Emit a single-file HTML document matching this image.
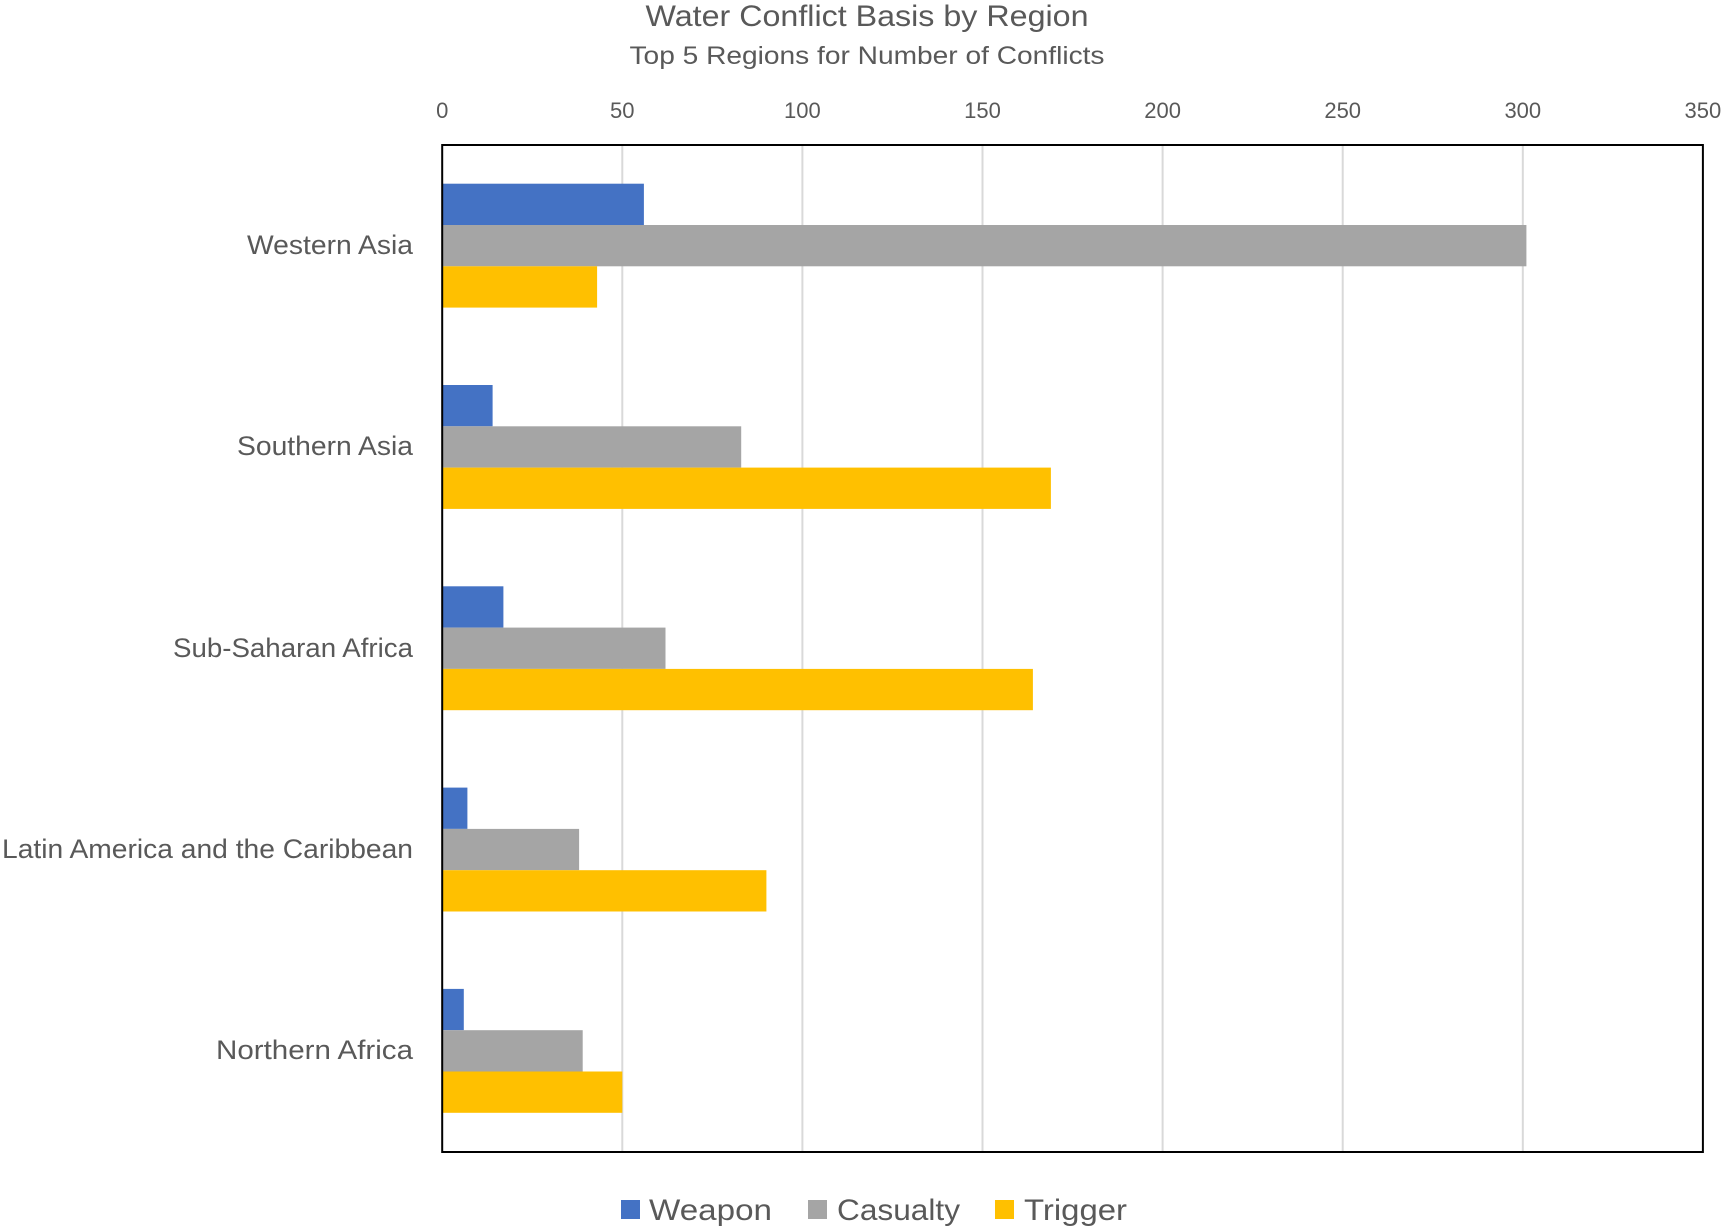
<!DOCTYPE html>
<html><head><meta charset="utf-8"><style>html,body{margin:0;padding:0;background:#fff}svg{display:block}</style></head>
<body>
<svg width="1725" height="1230" viewBox="0 0 1725 1230" xmlns="http://www.w3.org/2000/svg" font-family="Liberation Sans, sans-serif" fill="#595959">
<text x="867" y="26" font-size="30" text-anchor="middle" textLength="443" lengthAdjust="spacingAndGlyphs">Water Conflict Basis by Region</text>
<text x="867" y="64" font-size="25" text-anchor="middle" textLength="475" lengthAdjust="spacingAndGlyphs">Top 5 Regions for Number of Conflicts</text>
<g stroke="#d9d9d9" stroke-width="2">
<line x1="622.3" y1="145" x2="622.3" y2="1152"/>
<line x1="802.4" y1="145" x2="802.4" y2="1152"/>
<line x1="982.5" y1="145" x2="982.5" y2="1152"/>
<line x1="1162.6" y1="145" x2="1162.6" y2="1152"/>
<line x1="1342.7" y1="145" x2="1342.7" y2="1152"/>
<line x1="1522.8" y1="145" x2="1522.8" y2="1152"/>
</g>
<g font-size="22" text-anchor="middle">
<text x="442.2" y="118">0</text><text x="622.3" y="118">50</text><text x="802.4" y="118">100</text><text x="982.5" y="118">150</text><text x="1162.6" y="118">200</text><text x="1342.7" y="118">250</text><text x="1522.8" y="118">300</text><text x="1702.9" y="118">350</text>
</g>
<g>
<rect x="442.2" y="183.7" width="201.7" height="41.3" fill="#4472c4"/>
<rect x="442.2" y="225" width="1084.2" height="41.3" fill="#a5a5a5"/>
<rect x="442.2" y="266.3" width="154.9" height="41.3" fill="#ffc000"/>
<rect x="442.2" y="385" width="50.4" height="41.3" fill="#4472c4"/>
<rect x="442.2" y="426.3" width="299" height="41.3" fill="#a5a5a5"/>
<rect x="442.2" y="467.6" width="608.7" height="41.3" fill="#ffc000"/>
<rect x="442.2" y="586.3" width="61.2" height="41.3" fill="#4472c4"/>
<rect x="442.2" y="627.6" width="223.3" height="41.3" fill="#a5a5a5"/>
<rect x="442.2" y="668.9" width="590.7" height="41.3" fill="#ffc000"/>
<rect x="442.2" y="787.6" width="25.2" height="41.3" fill="#4472c4"/>
<rect x="442.2" y="828.9" width="136.9" height="41.3" fill="#a5a5a5"/>
<rect x="442.2" y="870.2" width="324.2" height="41.3" fill="#ffc000"/>
<rect x="442.2" y="988.9" width="21.6" height="41.3" fill="#4472c4"/>
<rect x="442.2" y="1030.2" width="140.5" height="41.3" fill="#a5a5a5"/>
<rect x="442.2" y="1071.5" width="180.1" height="41.3" fill="#ffc000"/>
</g>
<rect x="442.2" y="145" width="1260.7" height="1007" fill="none" stroke="#000" stroke-width="2"/>
<g font-size="27" text-anchor="end">
<text x="413" y="254" textLength="166" lengthAdjust="spacingAndGlyphs">Western Asia</text>
<text x="413" y="455" textLength="176" lengthAdjust="spacingAndGlyphs">Southern Asia</text>
<text x="413" y="657" textLength="240" lengthAdjust="spacingAndGlyphs">Sub-Saharan Africa</text>
<text x="413" y="858" textLength="411" lengthAdjust="spacingAndGlyphs">Latin America and the Caribbean</text>
<text x="413" y="1059" textLength="197" lengthAdjust="spacingAndGlyphs">Northern Africa</text>
</g>
<g font-size="30">
<rect x="621" y="1200" width="19" height="19" fill="#4472c4"/><text x="649" y="1220" textLength="123" lengthAdjust="spacingAndGlyphs">Weapon</text>
<rect x="808" y="1200" width="19" height="19" fill="#a5a5a5"/><text x="837" y="1220" textLength="123" lengthAdjust="spacingAndGlyphs">Casualty</text>
<rect x="995" y="1200" width="19" height="19" fill="#ffc000"/><text x="1024" y="1220" textLength="103" lengthAdjust="spacingAndGlyphs">Trigger</text>
</g>
</svg>
</body></html>
